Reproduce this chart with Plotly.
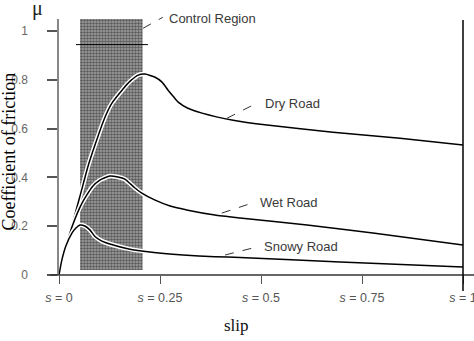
import plotly.graph_objects as go

# ---- data ----
dry_s = [0, 0.027, 0.052, 0.072, 0.089, 0.114, 0.131, 0.156, 0.176, 0.196, 0.213, 0.238, 0.255,
         0.270, 0.282, 0.295, 0.319, 0.354, 0.431, 0.515, 0.678, 0.844, 1.0]
dry_mu = [0, 0.172, 0.324, 0.447, 0.533, 0.648, 0.705, 0.758, 0.795, 0.820, 0.824, 0.811, 0.791,
          0.758, 0.734, 0.709, 0.684, 0.664, 0.635, 0.615, 0.586, 0.561, 0.533]

wet_s = [0, 0.007, 0.032, 0.057, 0.082, 0.101, 0.126, 0.146, 0.163, 0.188, 0.205, 0.238, 0.275,
         0.319, 0.386, 0.448, 0.614, 0.777, 1.0]
wet_mu = [0, 0.061, 0.197, 0.295, 0.361, 0.389, 0.406, 0.402, 0.393, 0.357, 0.336, 0.307, 0.283,
          0.266, 0.246, 0.234, 0.205, 0.172, 0.123]

snow_s = [0, 0.007, 0.017, 0.032, 0.042, 0.052, 0.064, 0.077, 0.089, 0.105, 0.130, 0.170, 0.225,
          0.307, 0.386, 0.448, 0.696, 1.0]
snow_mu = [0, 0.061, 0.119, 0.172, 0.193, 0.205, 0.201, 0.184, 0.158, 0.140, 0.125, 0.108, 0.094,
           0.082, 0.075, 0.072, 0.053, 0.033]

control_s = [0.052, 0.207]      # slip extent of the control region
control_mu = [0.02, 1.053]      # vertical extent of the shaded block
control_line_s = [0.042, 0.22]
control_line_mu = [0.945, 0.945]

x_ticks = [0, 0.25, 0.5, 0.75, 1]
x_tick_text = ["<i>s</i> = 0", "<i>s</i> = 0.25", "<i>s</i> = 0.5", "<i>s</i> = 0.75", "<i>s</i> = 1"]
y_ticks = [0, 0.2, 0.4, 0.6, 0.8, 1]
y_tick_text = ["0", "0.2", "0.4", "0.6", "0.8", "1"]

labels = {
    "Control Region": (0.267, 1.053, (0.208, 1.012), (0.257, 1.057)),
    "Dry Road": (0.505, 0.705, (0.416, 0.643), (0.485, 0.701)),
    "Wet Road": (0.493, 0.299, (0.403, 0.254), (0.478, 0.295)),
    "Snowy Road": (0.502, 0.115, (0.411, 0.082), (0.490, 0.115)),
}

YMAX = 1.05
NBSP = "\u00a0"
fig = go.Figure()

# control region (stippled block)
fig.add_trace(go.Bar(
    x=[(control_s[0] + control_s[1]) / 2], y=[control_mu[1] - control_mu[0]], base=[control_mu[0]],
    width=[control_s[1] - control_s[0]],
    marker=dict(color="#888888", line_width=0,
                pattern=dict(shape=".", fgcolor="#111111", bgcolor="#a4a4a4", size=3, solidity=0.55)),
    showlegend=False, hoverinfo="skip"))
fig.add_trace(go.Scatter(x=control_line_s, y=control_line_mu, mode="lines",
                         line=dict(color="black", width=1), showlegend=False, cliponaxis=False))

for s, mu in [(dry_s, dry_mu), (wet_s, wet_mu), (snow_s, snow_mu)]:
    fig.add_trace(go.Scatter(x=s, y=mu, mode="lines", line=dict(color="white", width=4.5, shape="spline", smoothing=0.5),
                             showlegend=False, hoverinfo="skip"))
    fig.add_trace(go.Scatter(x=s, y=mu, mode="lines", line=dict(color="black", width=1.5, shape="spline", smoothing=0.5),
                             showlegend=False))

shapes = []
annotations = []
for name, (tx, ty, p0, p1) in labels.items():
    annotations.append(dict(x=tx, y=ty / YMAX, xref="paper", yref="paper", text=name, showarrow=False,
                            xanchor="left", yanchor="middle",
                            font=dict(family="Liberation Sans, Arial", size=13, color="#3a3a3a")))
    shapes.append(dict(type="line", xref="paper", yref="paper", x0=p0[0], y0=p0[1] / YMAX, x1=p1[0], y1=p1[1] / YMAX,
                       line=dict(color="#333", width=1, dash="dash")))

# axis lines
shapes.append(dict(type="line", xref="paper", yref="paper", x0=-0.022, x1=1.03, y0=0, y1=0,
                   line=dict(color="#333", width=1.5)))
shapes.append(dict(type="line", xref="paper", yref="paper", x0=1, x1=1, y0=-0.0625, y1=0.996,
                   line=dict(color="black", width=1.5)))

annotations.append(dict(x=-0.054, y=1.04, xref="paper", yref="paper", text="μ", showarrow=False,
                        xanchor="center", yanchor="middle",
                        font=dict(family="Liberation Serif, Times New Roman", size=20, color="#222")))
annotations.append(dict(x=-0.123, y=0.484, xref="paper", yref="paper", text="Coefficient of friction",
                        textangle=-90, showarrow=False, xanchor="center", yanchor="middle",
                        font=dict(family="Liberation Serif, Times New Roman", size=18, color="#000")))
annotations.append(dict(x=0.44, y=-0.199, xref="paper", yref="paper", text="slip", showarrow=False,
                        xanchor="center", yanchor="middle",
                        font=dict(family="Liberation Serif, Times New Roman", size=17, color="#111")))

fig.update_layout(
    width=474, height=341, margin=dict(l=59, r=11, t=19, b=66, autoexpand=False),
    paper_bgcolor="white", plot_bgcolor="white", barmode="overlay",
    shapes=shapes, annotations=annotations,
    xaxis=dict(range=[0, 1], showgrid=False, zeroline=False, showline=False,
               tickmode="array", tickvals=x_ticks, ticktext=x_tick_text, ticks="outside", ticklen=8,
               tickcolor="#555", tickfont=dict(family="Liberation Sans, Arial", size=12.5, color="#555"),
               ticklabelstandoff=3, ticklabeloverflow="allow"),
    yaxis=dict(range=[0, YMAX], showgrid=False, zeroline=False, showline=True, linecolor="#888", linewidth=2,
               tickmode="array", tickvals=y_ticks, ticktext=[t + NBSP * 5 for t in y_tick_text],
               ticks="outside", ticklen=10, tickwidth=1.5,
               tickcolor="#555", tickfont=dict(family="Liberation Sans, Arial", size=12, color="#666"),
               ticklabeloverflow="allow"),
)

fig.write_html("out.html")
